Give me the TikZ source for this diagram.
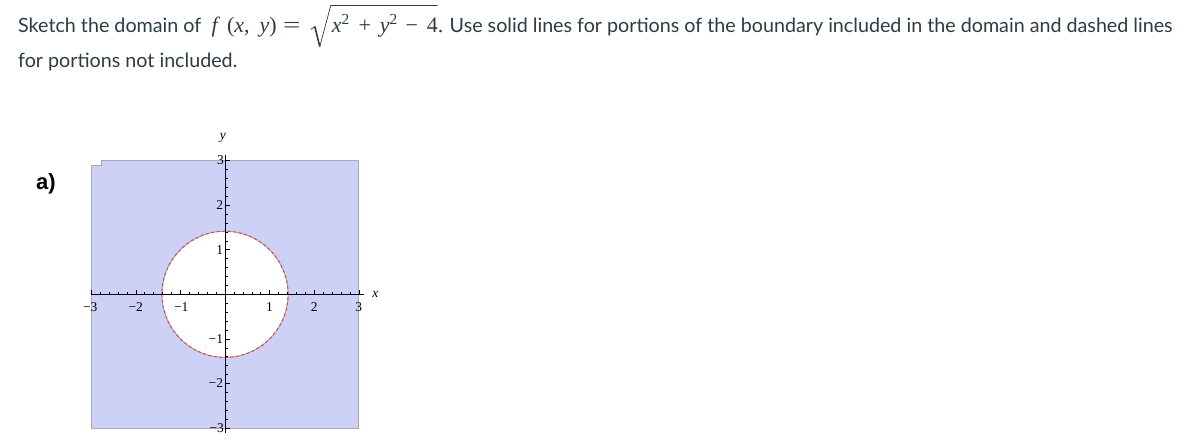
\documentclass[tikz,border=0pt]{standalone}
\usepackage{fontspec}
\usepackage{graphicx}
\usetikzlibrary{calc}
\setmainfont{Lato}
\newfontfamily\tms{Liberation Serif}
\newfontfamily\arl{Liberation Sans}
\definecolor{domfill}{RGB}{204,209,245}
\definecolor{bordc}{RGB}{168,168,178}
\definecolor{txtc}{RGB}{45,59,69}
\definecolor{dashc}{RGB}{230,60,60}
\begin{document}
\begin{tikzpicture}[x=1pt,y=-1pt,
  ticklab/.style={font=\tms\fontsize{13.5}{13.5}\selectfont, inner sep=0pt},
  para/.style={font=\fontsize{19.7}{19.7}\selectfont, text=txtc, inner sep=0pt, anchor=base west},
  mtxt/.style={font=\tms\fontsize{22}{22}\selectfont, text=txtc, inner sep=0pt, anchor=base west}]
\useasboundingbox (0,0) rectangle (1188,440);
\node[para] (l1a) at (18,32.5) {Sketch the domain of};
\node[mtxt] (m1) at ([xshift=10pt]l1a.base east) {\itshape f\hspace{0.42em}\upshape(\itshape x\upshape,\hspace{0.45em}\itshape y\upshape)\hspace{0.3em}\scalebox{1.4}[1]{=}};
\node[mtxt] (m2) at ([xshift=31pt]m1.base east) {\itshape x\upshape\textsuperscript{2}\hspace{0.4em}+\hspace{0.4em}\itshape y\upshape\textsuperscript{2}\hspace{0.35em}−\hspace{0.4em}4.};
\node[para] (l1b) at ([xshift=6pt]m2.base east) {Use solid lines for portions of the boundary included in the domain and dashed lines};
\draw[txtc, line width=0.7pt] ($(m2.base west)+(-21,-3)$) -- ++(4,-3);
\draw[txtc, line width=1.6pt] ($(m2.base west)+(-17,-6)$) -- ++(5,20);
\draw[txtc, line width=0.7pt, line join=miter] ($(m2.base west)+(-12,14)$) -- ++(11,-41) -- ([xshift=-6pt,yshift=27pt]m2.base east);
\node[para] (l2) at (18,67) {for portions not included.};
\node[font=\arl\bfseries\fontsize{22}{22}\selectfont, anchor=base west, inner sep=0pt] (lab) at (36,189) {a)};
\begin{scope}[shift={(225,294.3)}, x=44.6pt, y=44.6pt]
  \fill[domfill, even odd rule] (-3,-3) rectangle (3,3) (0,0) circle (1.4142);
  \draw[bordc, line width=1.2pt] (-3,2.88) -- (-3,-3) -- (3,-3) -- (3,3) -- (-2.78,3) -- (-2.78,2.88) -- cycle;
  \fill[white] (-3.03,3.03) rectangle (-2.78,2.89);
  \draw[bordc, line width=1pt] (0,0) circle (1.4142);
  \draw[dashc, line width=0.9pt, dash pattern=on 3pt off 2.5pt] (0,0) circle (1.4142);
  \draw[black, line width=0.8pt] (-3,0) -- (3.12,0);
  \draw[black, line width=0.8pt] (0,-3.12) -- (0,3.12);
  \foreach \i in {-15,...,15} {
    \pgfmathtruncatemacro{\m}{mod(abs(\i),5)}
    \ifnum\m=0
      \draw[black, line width=0.6pt] (\i/5,0) -- ++(0,4.5pt);
      \draw[black, line width=0.6pt] (0,\i/5) -- ++(4.5pt,0);
    \else
      \draw[black, line width=0.5pt] (\i/5,0) -- ++(0,2.5pt);
      \draw[black, line width=0.5pt] (0,\i/5) -- ++(2.5pt,0);
    \fi
  }
  \node[ticklab] (xm3) at (-3.02,-0.28) {−3};
  \node[ticklab] (xm2) at (-2,-0.28) {−2};
  \node[ticklab] (xm1) at (-0.98,-0.28) {−1};
  \node[ticklab] (x1) at (1,-0.28) {1};
  \node[ticklab] (x2) at (2,-0.28) {2};
  \node[ticklab] (x3) at (3,-0.28) {3};
  \node[ticklab, anchor=east] (ym3) at (-0.02,-3) {−3};
  \node[ticklab, anchor=east] (ym2) at (-0.04,-2) {−2};
  \node[ticklab, anchor=east] (ym1) at (-0.04,-1) {−1};
  \node[ticklab, anchor=east] (y1) at (-0.04,1) {1};
  \node[ticklab, anchor=east] (y2) at (-0.04,2) {2};
  \node[ticklab, anchor=east] (y3) at (-0.02,3) {3};
  \node[ticklab, font=\tms\itshape\fontsize{13.5}{13.5}\selectfont] (xl) at (3.37,0) {x};
  \node[ticklab, font=\tms\itshape\fontsize{13.5}{13.5}\selectfont] (yl) at (-0.05,3.5) {y};
\end{scope}
\end{tikzpicture}
\end{document}
